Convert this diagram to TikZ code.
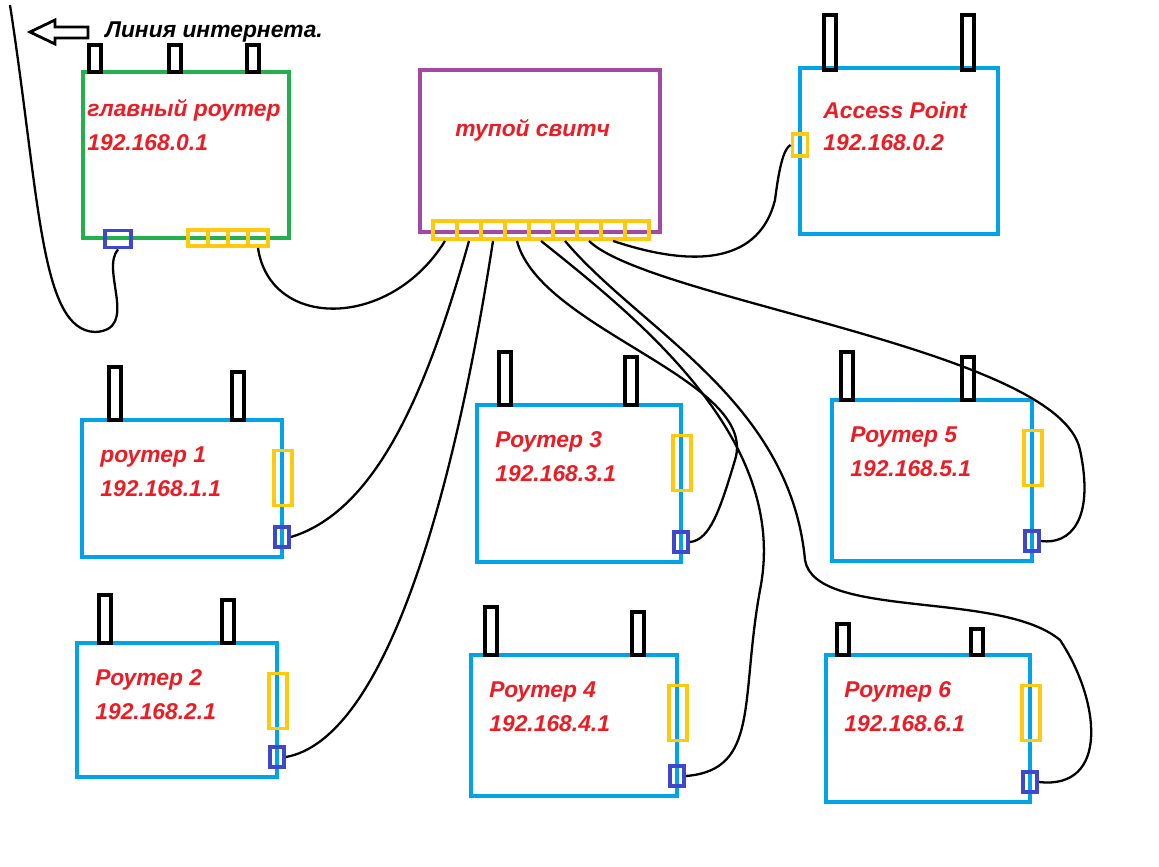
\documentclass[tikz,border=0pt]{standalone}
\usepackage{fontspec}
\setmainfont{Liberation Sans}
\definecolor{rgreen}{RGB}{34,177,76}
\definecolor{rpurple}{RGB}{163,73,164}
\definecolor{rblue}{RGB}{0,162,232}
\definecolor{ryellow}{RGB}{255,201,14}
\definecolor{rport}{RGB}{63,72,204}
\definecolor{rred}{RGB}{237,28,36}
\tikzset{
  box/.style={line width=2.2pt},
  ant/.style={line width=2pt},
  yport/.style={draw=ryellow, line width=2.2pt, inner sep=0pt},
  bport/.style={draw=rport, line width=2.2pt, inner sep=0pt},
  lbl/.style={text=rred, font=\bfseries\itshape\fontsize{13}{15}\selectfont, anchor=west, inner sep=0pt},
  cable/.style={line width=1.3pt}
}
\begin{document}
\begin{tikzpicture}[x=0.02cm,y=-0.02cm]
  \useasboundingbox (0,0) rectangle (1159,866);
  % internet line
  \draw[line width=1.6pt] (30,32) -- (55,20) -- (55,27) -- (88,27) -- (88,38) -- (55,38) -- (55,44) -- cycle;
  \node[lbl, text=black] (inet) at (105,32) {Линия интернета.};
  % main router
  \draw[box, rgreen] (83,72) rectangle (289,238);
  \foreach \x in {95,175,253} \draw[ant] (\x-6,45) rectangle (\x+6,72);
  \node[lbl] at (87,110) {главный роутер};
  \node[lbl] at (87,143) {192.168.0.1};
  \node[bport, minimum width=0.52cm, minimum height=0.34cm] (mb) at (118,239) {};
  \foreach \i/\x in {1/198,2/218,3/238,4/258}
    \node[yport, minimum width=0.4cm, minimum height=0.32cm] (m\i) at (\x,238) {};
  % switch
  \draw[box, rpurple] (420,70) rectangle (660,232);
  \node[lbl] at (455,130) {тупой свитч};
  \foreach \i in {1,...,9}
    \node[yport, minimum width=0.48cm, minimum height=0.36cm] (s\i) at ({445+24*(\i-1)},230) {};
  % access point
  \draw[box, rblue] (800,68) rectangle (998,234);
  \foreach \x in {830,968} \draw[ant] (\x-6,15) rectangle (\x+6,70);
  \node[yport, minimum width=0.3cm, minimum height=0.44cm] (ap) at (800,145) {};
  \node[lbl] at (823,110) {Access Point};
  \node[lbl] at (823,143) {192.168.0.2};
  % routers: name/x1/y1/x2/y2/antenna1/antenna2/antenna top/title/ip
  \foreach \n/\xa/\ya/\xb/\yb/\aa/\ab/\at/\ttl/\ip in {
      1/82/420/282/557/115/238/367/роутер 1/192.168.1.1,
      2/77/643/277/777/105/228/595/Роутер 2/192.168.2.1,
      3/477/405/681/562/505/631/352/Роутер 3/192.168.3.1,
      4/471/655/677/796/491/638/607/Роутер 4/192.168.4.1,
      5/832/400/1032/561/847/968/352/Роутер 5/192.168.5.1,
      6/826/655/1030/802/843/977/624/Роутер 6/192.168.6.1} {
    \draw[box, rblue] (\xa,\ya) rectangle (\xb,\yb);
    \draw[ant] (\aa-6,\at) rectangle (\aa+6,\ya);
    \draw[ant] (\ab-6,\at+5) rectangle (\ab+6,\ya);
    \node[lbl] at (\xa+18,\ya+37) {\ttl};
    \node[lbl] at (\xa+18,\ya+69) {\ip};
    \node[yport, minimum width=0.36cm, minimum height=1.1cm] (y\n) at (\xb+1,\ya+58) {};
    \node[bport, minimum width=0.28cm, minimum height=0.4cm] (r\n) at (\xb,\yb-20) {};
  }
  % cables
  \draw[cable] (10,5) .. controls (40,200) and (40,330) .. (95,332)
    .. controls (140,330) and (100,270) .. (mb.south);
  \draw[cable] (m4.south) .. controls (270,330) and (390,330) .. (s1.south);
  \draw[cable] (s2.south) .. controls (430,380) and (380,510) .. (r1.east);
  \draw[cable] (s3.south) .. controls (450,520) and (380,740) .. (r2.east);
  \draw[cable] (s4.south) .. controls (540,330) and (760,380) .. (735,460)
    .. controls (720,510) and (710,540) .. (r3.east);
  \draw[cable] (s5.south) .. controls (640,320) and (790,440) .. (760,590)
    .. controls (740,700) and (760,770) .. (r4.east);
  \draw[cable] (s6.south) .. controls (640,330) and (790,400) .. (805,560)
    .. controls (815,620) and (1000,590) .. (1060,640)
    .. controls (1100,700) and (1110,790) .. (r6.east);
  \draw[cable] (s7.south) .. controls (650,300) and (1060,350) .. (1080,450)
    .. controls (1095,520) and (1070,545) .. (r5.east);
  \draw[cable] (s8.south) .. controls (700,270) and (760,260) .. (775,200)
    .. controls (780,160) and (785,148) .. (ap.west);
\end{tikzpicture}
\end{document}
